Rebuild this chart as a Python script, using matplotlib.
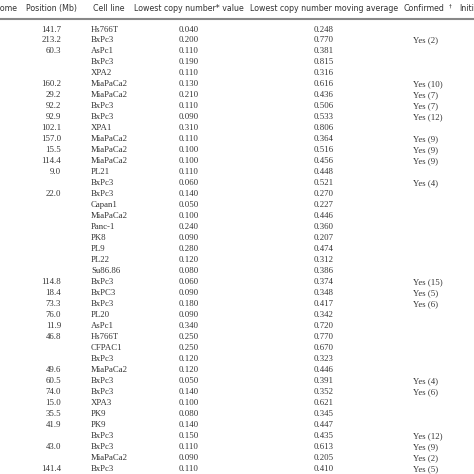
import matplotlib.pyplot as plt

positions = ['141.7', '213.2', '60.3', '', '', '160.2', '29.2', '92.2', '92.9', '102.1',
             '157.0', '15.5', '114.4', '9.0', '', '22.0', '', '', '', '', '', '', '',
             '114.8', '18.4', '73.3', '76.0', '11.9', '46.8', '', '', '49.6', '60.5',
             '74.0', '15.0', '35.5', '41.9', '', '43.0', '', '141.4']
cell_lines = ['Hs766T', 'BxPc3', 'AsPc1', 'BxPc3', 'XPA2', 'MiaPaCa2', 'MiaPaCa2', 'BxPc3',
              'BxPc3', 'XPA1', 'MiaPaCa2', 'MiaPaCa2', 'MiaPaCa2', 'PL21', 'BxPc3', 'BxPc3',
              'Capan1', 'MiaPaCa2', 'Panc-1', 'PK8', 'PL9', 'PL22', 'Su86.86', 'BxPc3',
              'BxPC3', 'BxPc3', 'PL20', 'AsPc1', 'Hs766T', 'CFPAC1', 'BxPc3', 'MiaPaCa2',
              'BxPc3', 'BxPc3', 'XPA3', 'PK9', 'PK9', 'BxPc3', 'BxPc3', 'MiaPaCa2', 'BxPc3']
lowest = ['0.040', '0.200', '0.110', '0.190', '0.110', '0.130', '0.210', '0.110', '0.090',
          '0.310', '0.110', '0.100', '0.100', '0.110', '0.060', '0.140', '0.050', '0.100',
          '0.240', '0.090', '0.280', '0.120', '0.080', '0.060', '0.090', '0.180', '0.090',
          '0.340', '0.250', '0.250', '0.120', '0.120', '0.050', '0.140', '0.100', '0.080',
          '0.140', '0.150', '0.110', '0.090', '0.110']
moving_avg = ['0.248', '0.770', '0.381', '0.815', '0.316', '0.616', '0.436', '0.506', '0.533',
              '0.806', '0.364', '0.516', '0.456', '0.448', '0.521', '0.270', '0.227', '0.446',
              '0.360', '0.207', '0.474', '0.312', '0.386', '0.374', '0.348', '0.417', '0.342',
              '0.720', '0.770', '0.670', '0.323', '0.446', '0.391', '0.352', '0.621', '0.345',
              '0.447', '0.435', '0.613', '0.205', '0.410']
confirmed = ['', 'Yes (2)', '', '', '', 'Yes (10)', 'Yes (7)', 'Yes (7)', 'Yes (12)', '',
             'Yes (9)', 'Yes (9)', 'Yes (9)', '', 'Yes (4)', '', '', '', '', '', '', '', '',
             'Yes (15)', 'Yes (5)', 'Yes (6)', '', '', '', '', '', '', 'Yes (4)', 'Yes (6)',
             '', '', '', 'Yes (12)', 'Yes (9)', 'Yes (2)', 'Yes (5)']

W = H = 474
fig = plt.figure(figsize=(4.74, 4.74), dpi=100)
ax = fig.add_axes([0, 0, 1, 1])
ax.set_xlim(0, W)
ax.set_ylim(H, 0)
ax.axis('off')

hdr = dict(fontsize=5.7, family='DejaVu Sans', color='#333333', va='center')
ax.text(17, 8, 'Chromosome', ha='right', **hdr)
ax.text(26, 8, 'Position (Mb)', ha='left', **hdr)
ax.text(93, 8, 'Cell line', ha='left', **hdr)
ax.text(134, 8, 'Lowest copy number* value', ha='left', **hdr)
ax.text(250, 8, 'Lowest copy number moving average', ha='left', **hdr)
ax.text(404, 8, 'Confirmed', ha='left', **hdr)
ax.text(449, 6, '\u2020', ha='left', fontsize=4, family='DejaVu Sans', color='#333333', va='center')
ax.text(459, 8, 'Initial', ha='left', **hdr)
ax.plot([0, W], [19, 19], color='#888888', lw=1.5)

body = dict(fontsize=6.3, family='Liberation Serif', color='#333333', va='center')
y0, dy = 29.5, 10.98
for i in range(len(cell_lines)):
    y = y0 + i * dy
    ax.text(61, y, positions[i], ha='right', **body)
    ax.text(91, y, cell_lines[i], ha='left', **body)
    ax.text(189, y, lowest[i], ha='center', **body)
    ax.text(324, y, moving_avg[i], ha='center', **body)
    ax.text(413, y, confirmed[i], ha='left', **body)

fig.savefig('out.png', dpi=100)
